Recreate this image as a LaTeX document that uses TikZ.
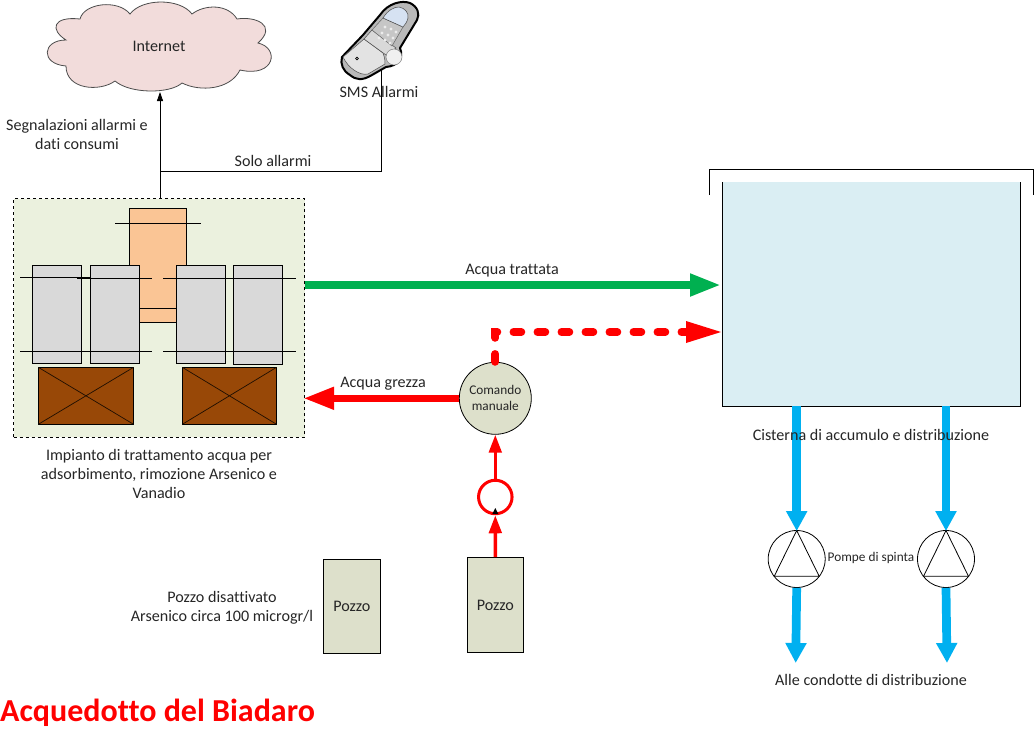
\documentclass[tikz,border=0pt]{standalone}
\usepackage{fontspec}
\setmainfont{Carlito}[Ligatures=NoCommon]
\usetikzlibrary{arrows.meta,calc}
\definecolor{boxgreen}{HTML}{EBF1DE}
\definecolor{peach}{HTML}{FAC595}
\definecolor{graybox}{HTML}{D9D9D9}
\definecolor{brownbox}{HTML}{984807}
\definecolor{olivebox}{HTML}{DDE0CB}
\definecolor{tank}{HTML}{DAEEF3}
\definecolor{cloudpink}{HTML}{F2DCDB}
\definecolor{flowgreen}{HTML}{00B050}
\definecolor{flowblue}{HTML}{00B0F0}
\definecolor{txt}{HTML}{262626}
\definecolor{screenblue}{HTML}{D6E2F2}
\tikzset{x=1pt,y=-1pt,
 lbl/.style={font=\fontsize{16.1}{19}\selectfont,text=txt,align=center,inner sep=0pt},
 smalllbl/.style={font=\fontsize{13.3}{16}\selectfont,text=txt,align=center,inner sep=0pt},
 part/.style={draw=black,line width=0.8pt},
 thin line/.style={draw=black,line width=0.8pt},
 bigflow/.style={line width=7.5pt,-{Triangle[length=31pt,width=21pt]}},
 blueflow/.style={draw=flowblue,line width=8.7pt,-{Triangle[length=20pt,width=20pt]}},
 smallflow/.style={draw=red,line width=3.5pt,-{Triangle[length=18pt,width=12.5pt]}},
 pumpc/.style={circle,draw=black,line width=0.8pt,fill=white,minimum size=57pt,inner sep=0pt},
 valve/.style={circle,draw=black,line width=0.8pt,fill=olivebox,minimum size=72pt,inner sep=0pt,align=center},
 well/.style={draw=black,line width=0.8pt,fill=olivebox,inner sep=0pt,font=\fontsize{16.1}{19}\selectfont,text=txt}}
\begin{document}
\begin{tikzpicture}
\useasboundingbox (0,0) rectangle (1034,732);
% cloud
\path[draw=black!70,line width=0.8pt,fill=cloudpink] (80,19)
 .. controls (84,3) and (118,-1) .. (130,14)
 .. controls (142,-2) and (180,-2) .. (192,14)
 .. controls (205,4) and (228,4) .. (237,19)
 .. controls (255,16) and (278,25) .. (258,43)
 .. controls (280,48) and (275,78) .. (240,70)
 .. controls (230,90) and (200,92) .. (182,83)
 .. controls (170,94) and (130,94) .. (115,81)
 .. controls (100,92) and (66,90) .. (66,66)
 .. controls (40,64) and (42,40) .. (66,40)
 .. controls (50,30) and (52,16) .. (80,19) -- cycle;
\node[lbl] (internet) at (159,46.5) {Internet};
% phone
\path[draw=black,line width=2pt,line join=round,fill=gray!55] (342,57) -- (363,35) -- (380,15) .. controls (388,3) and (402,0) .. (410,3) .. controls (418,7) and (420,14) .. (417,20) -- (400,48) .. controls (404,58) and (398,66) .. (386,67) -- (372,75) .. controls (362,81) and (356,80) .. (350,75) .. controls (343,71) and (340,64) .. (342,57) -- cycle;
\path[fill=gray!22,draw=black!70,line width=0.5pt] (343,57) -- (364,39) -- (383,53) .. controls (385,58) and (385,62) .. (385,64) -- (368,74) .. controls (360,76) and (348,68) .. (343,57) -- cycle;
\path[draw=black!70,fill=gray!30,line width=0.5pt] (364,39) -- (372,30) -- (396,48) -- (386,55) -- cycle;
\path[draw=black!60,fill=gray!45,line width=0.5pt] (372,30) -- (383,18) -- (403,27) -- (392,46) -- cycle;
\path[fill=screenblue,draw=black!70,line width=0.5pt] (383,18) .. controls (388,10) and (394,7) .. (399,7) .. controls (405,8) and (409,13) .. (408,18) .. controls (407,22) and (405,25) .. (403,27) -- cycle;
\draw[black!50,line width=0.5pt,fill=gray!12] (394,57) circle (8pt);
\draw[black,line width=0.7pt,fill=white] (357,58.5) circle (1.3pt);
\foreach \a/\b in {385/27,391/29,396/32,382/33,388/35,393/38,379/38,385/40,390/43}
  \fill[gray!15] (\a,\b) circle (1.6pt);
\node[lbl] (sms) at (379,92) {SMS Allarmi};
\coordinate (phonepin) at (381,70);
\coordinate (cloudpin) at (160,92);
% plant
\node[draw=black,line width=0.8pt,dashed,fill=boxgreen,minimum width=291pt,minimum height=238.5pt,inner sep=0pt,anchor=north west] (plant) at (13.3,198.3) {};
\coordinate (branch) at (160,171);
\draw[thin line] (plant.north -| branch) -- (branch);
\draw[thin line,-{Triangle[length=9pt,width=6pt]}] (branch) -- (cloudpin);
\draw[thin line] (branch) -- (381,171) -- (phonepin);
\draw[part,fill=peach] (129.3,208.3) rectangle (186.3,322.3);
\draw[thin line] (115,223.3) -- (200.7,223.3);
\draw[thin line] (139,308.3) -- (177,308.3);
\draw[part,fill=graybox] (32.3,265.3) rectangle (81.3,363.3);
\draw[part,fill=graybox] (90.3,265.3) rectangle (139.6,363.3);
\draw[part,fill=graybox] (176.3,265.3) rectangle (225.6,363.3);
\draw[part,fill=graybox] (233.3,265.3) rectangle (282.6,364.3);
\draw[thin line] (20,277.3) -- (90,277.3);
\draw[black,line width=1.6pt] (77.3,277.8) -- (90,277.8);
\draw[thin line] (90,278.3) -- (152,278.3);
\draw[thin line] (163,278.3) -- (295.7,278.3);
\draw[thin line] (20,351.3) -- (152,351.3);
\draw[thin line] (163,351.3) -- (295.7,351.3);
\draw[part,fill=brownbox] (38.3,367.3) rectangle (133.6,424.3);
\draw[black!80!brownbox,line width=0.7pt] (38.3,367.3) -- (133.6,424.3) (38.3,424.3) -- (133.6,367.3);
\draw[part,fill=brownbox] (182.3,367.3) rectangle (276.6,424.3);
\draw[black!80!brownbox,line width=0.7pt] (182.3,367.3) -- (276.6,424.3) (182.3,424.3) -- (276.6,367.3);
% tank
\fill[tank] (722,182) rectangle (1020,406);
\draw[thin line] (722,182) -- (722,406) -- (1020,406) -- (1020,182);
\draw[thin line] (709,195) -- (709,169) -- (1033.4,169) -- (1033.4,195);
\coordinate (tankA) at (721,285);
\coordinate (tankB) at (721,332);
% valve etc
\node[valve] (valve) at (495.3,398.3) {};
\node[smalllbl,align=center] (valvetxt) at (495.3,398) {Comando\\manuale};
\node[circle,draw=red,line width=3pt,fill=white,minimum size=33.5pt,inner sep=0pt] (check) at (495.3,497) {};
\node[well,minimum width=57pt,minimum height=94pt,anchor=north west] (well1) at (323,559) {Pozzo};
\node[well,minimum width=56pt,minimum height=95pt,anchor=north west] (well2) at (467,557) {Pozzo};
\draw[smallflow] (well2.north) -- (check.south);
\fill[black] (495.3,508) -- (498.3,514) -- (492.3,514) -- cycle;
\draw[smallflow] (check.north) -- (valve.south);
\draw[red,bigflow,line width=7.3pt] (valve.west) -- ($(plant.east |- valve.west)+(-2,0)$);
\draw[flowgreen,bigflow] (plant.east |- tankA) -- (tankA);
\draw[red,line width=7.7pt,line cap=round,dash pattern=on 8pt off 16pt] (valve.north) -- (495.3,332) -- ($(tankB)+(-32,0)$);
\fill[red] (686,321) -- (tankB) -- (686,343) -- cycle;
% pumps
\node[pumpc] (p1) at (796.7,559) {};
\node[pumpc] (p2) at (946,559) {};
\foreach \c in {p1,p2}{
 \draw[thin line] ($(\c)+(0,-28.5)$) -- ($(\c)+(22.5,17.3)$) -- ($(\c)+(-22.5,17.3)$) -- cycle;
}
\draw[blueflow] (796.7,406) -- ($(p1.north)+(0,1)$);
\draw[blueflow] (946,406) -- ($(p2.north)+(0,1)$);
\coordinate (out1) at (795.7,663);
\coordinate (out2) at (947,663);
\draw[blueflow] (p1.south) -- (out1);
\draw[blueflow] (p2.south) -- (out2);
% labels
\node[lbl] (l1) at (77,134) {Segnalazioni allarmi e\\dati consumi};
\node[lbl] (l2) at (273,160.5) {Solo allarmi};
\node[lbl] (l3) at (512,270.5) {Acqua trattata};
\node[lbl] (l4) at (383,383.5) {Acqua grezza};
\node[lbl] (l5) at (159,474) {Impianto di trattamento acqua per\\adsorbimento, rimozione Arsenico e\\Vanadio};
\node[lbl] (l6) at (871,435) {Cisterna di accumulo e distribuzione};
\node[smalllbl] (l7) at (871,557.5) {Pompe di spinta};
\node[lbl] (l8) at (871,680) {Alle condotte di distribuzione};
\node[lbl] (l9) at (222,607.5) {Pozzo disattivato\\Arsenico circa 100 microgr/l};
\node[font=\bfseries\fontsize{32}{36}\selectfont,text=red,inner sep=0pt,anchor=west] (title) at (0,713) {Acquedotto del Biadaro};
\end{tikzpicture}
\end{document}
